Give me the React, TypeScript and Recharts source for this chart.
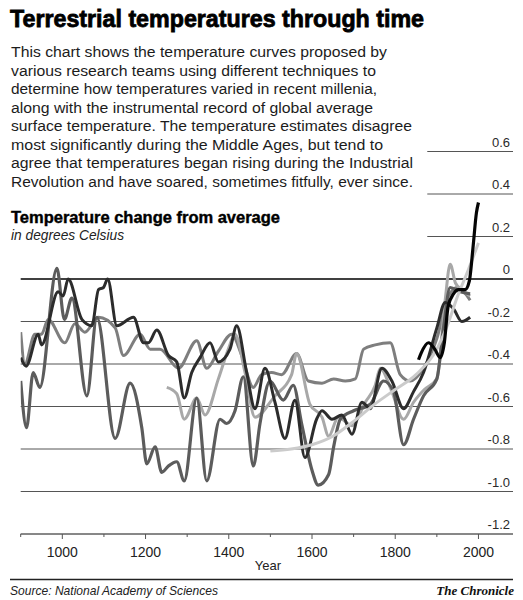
import { LineChart, Line, XAxis, YAxis, ReferenceLine } from "recharts"

// Reconstructions, sampled at the turning points of each curve (°C vs. average)
const mannJonesYears = [900, 913, 942, 950, 990, 1002, 1014, 1047, 1071, 1087, 1099, 1109, 1131, 1171, 1195, 1207, 1227, 1255, 1275, 1293, 1311, 1331, 1355, 1375, 1403, 1419, 1443, 1463, 1487, 1511, 1535, 1559, 1583, 1611, 1624, 1648, 1672, 1696, 1720, 1740, 1768, 1792, 1820, 1844, 1868, 1900, 1920, 1940, 1960, 1980]
const mannJonesTemps = [-0.37, -0.41, -0.26, -0.31, -0.06, -0.08, 0.0, -0.19, -0.22, -0.05, -0.04, 0.0, -0.22, -0.18, -0.3, -0.3, -0.24, -0.36, -0.39, -0.56, -0.44, -0.37, -0.3, -0.39, -0.33, -0.22, -0.44, -0.61, -0.42, -0.58, -0.75, -0.57, -0.84, -0.66, -0.62, -0.66, -0.64, -0.73, -0.58, -0.61, -0.42, -0.48, -0.61, -0.53, -0.44, -0.23, -0.11, -0.14, -0.2, -0.18]

const mobergYears = [900, 914, 930, 946, 987, 1005, 1023, 1059, 1083, 1127, 1163, 1191, 1203, 1223, 1239, 1255, 1275, 1293, 1323, 1347, 1379, 1395, 1415, 1435, 1459, 1475, 1499, 1531, 1555, 1575, 1600, 1615, 1640, 1652, 1668, 1700, 1740, 1772, 1796, 1820, 1844, 1868, 1900, 1916, 1932, 1956, 1980]
const mobergTemps = [-0.48, -0.7, -0.44, -0.51, 0.05, -0.19, -0.09, -0.55, -0.18, -0.75, -0.49, -0.7, -0.87, -0.79, -0.91, -0.88, -0.86, -0.95, -0.56, -0.95, -0.66, -0.68, -0.62, -0.46, -0.88, -0.68, -0.48, -0.57, -0.5, -0.68, -0.9, -0.97, -0.92, -0.79, -0.66, -0.62, -0.59, -0.48, -0.53, -0.78, -0.66, -0.55, -0.47, -0.23, -0.04, -0.06, -0.07]

const hegerlYears = [900, 910, 934, 950, 966, 1006, 1030, 1054, 1087, 1127, 1147, 1187, 1211, 1235, 1279, 1323, 1347, 1375, 1407, 1431, 1459, 1479, 1503, 1527, 1563, 1591, 1624, 1652, 1680, 1704, 1724, 1752, 1788, 1812, 1836, 1868, 1900, 1928, 1950, 1980]
const hegerlTemps = [-0.25, -0.4, -0.26, -0.26, -0.19, -0.3, -0.21, -0.25, -0.18, -0.23, -0.36, -0.26, -0.33, -0.33, -0.42, -0.29, -0.42, -0.34, -0.26, -0.36, -0.51, -0.45, -0.44, -0.45, -0.35, -0.48, -0.49, -0.47, -0.48, -0.47, -0.33, -0.31, -0.3, -0.45, -0.48, -0.42, -0.28, -0.08, -0.04, -0.1]

const esperYears = [1251, 1275, 1293, 1323, 1343, 1375, 1399, 1415, 1439, 1463, 1511, 1551, 1563, 1595, 1624, 1640, 1663, 1696, 1728, 1752, 1764, 1790, 1820, 1844, 1870, 1900, 1920, 1932, 1945, 1960, 1980]
const esperTemps = [-0.51, -0.54, -0.66, -0.56, -0.64, -0.47, -0.33, -0.26, -0.44, -0.65, -0.55, -0.45, -0.35, -0.59, -0.65, -0.74, -0.65, -0.69, -0.58, -0.5, -0.42, -0.52, -0.66, -0.58, -0.52, -0.47, -0.1, 0.07, -0.02, -0.05, -0.08]

const boreholeYears = [1500, 1550, 1600, 1650, 1700, 1750, 1800, 1850, 1900, 1925, 1950, 1975, 2000]
const boreholeTemps = [-0.81, -0.8, -0.78, -0.74, -0.67, -0.59, -0.52, -0.45, -0.33, -0.22, -0.08, 0.04, 0.17]

const instrumentalYears = [1856, 1862, 1880, 1895, 1908, 1918, 1927, 1940, 1952, 1968, 1978, 1987, 1995, 2000]
const instrumentalTemps = [-0.38, -0.35, -0.3, -0.33, -0.37, -0.3, -0.13, -0.07, -0.05, -0.05, -0.01, 0.15, 0.31, 0.36]

const gridValues = [0.6, 0.4, 0.2, 0, -0.2, -0.4, -0.6, -0.8, -1.0, -1.2]
const gridLabels = ["0.6", "0.4", "0.2", "0", "-0.2", "-0.4", "-0.6", "-0.8", "-1.0", "-1.2"]
const yearTicks = [900, 1000, 1100, 1200, 1300, 1400, 1500, 1600, 1700, 1800, 1900, 2000]

const introLines = [
  "This chart shows the temperature curves proposed by",
  "various research teams using different techniques to",
  "determine how temperatures varied in recent millenia,",
  "along with the instrumental record of global average",
  "surface temperature. The temperature estimates disagree",
  "most significantly during the Middle Ages, but tend to",
  "agree that temperatures began rising during the Industrial",
  "Revolution and have soared, sometimes fitfully, ever since.",
]
const introWidths = [376, 365, 366, 362, 401, 372, 402, 402]

const toPoints = (years: number[], temps: number[]) => years.map((year, i) => ({ year, temp: temps[i] }))

const series = [
  { key: "hegerl", points: toPoints(hegerlYears, hegerlTemps), color: "#7e7e7e", width: 3 },
  { key: "esper", points: toPoints(esperYears, esperTemps), color: "#a8a8a8", width: 3 },
  { key: "moberg", points: toPoints(mobergYears, mobergTemps), color: "#5c5c5c", width: 3.2 },
  { key: "mannJones", points: toPoints(mannJonesYears, mannJonesTemps), color: "#2c2c2c", width: 3 },
  { key: "borehole", points: toPoints(boreholeYears, boreholeTemps), color: "#cbcbcb", width: 3 },
  { key: "instrumental", points: toPoints(instrumentalYears, instrumentalTemps), color: "#050505", width: 3.2 },
]

const SANS = "'Liberation Sans', Arial, sans-serif"

function GridLabel(props: any) {
  const { viewBox, text } = props
  if (!viewBox) return null
  return (
    <text x={viewBox.x + viewBox.width - 3} y={viewBox.y - 5} textAnchor="end" fontFamily={SANS} fontSize={13} fill="#2a2a2a">
      {text}
    </text>
  )
}

function YearTick(props: any) {
  const { x, y, payload } = props
  const major = payload.value % 200 === 0
  return (
    <g>
      <line x1={x} x2={x} y1={y} y2={y + (major ? 5 : 3)} stroke="#555" strokeWidth={1} />
      {major && (
        <text x={x} y={y + 23} textAnchor="middle" fontFamily={SANS} fontSize={14} fill="#222">
          {payload.value}
        </text>
      )}
    </g>
  )
}

export default function App() {
  return (
    <div style={{ position: "relative", width: 523, height: 600, background: "#fff" }}>
      <style>{"body{margin:0}"}</style>
      <LineChart width={523} height={600} margin={{ top: 151.5, right: 10, bottom: 26, left: 20.7 }}>
        <XAxis
          dataKey="year"
          type="number"
          domain={[900, 2083]}
          ticks={yearTicks}
          allowDataOverflow
          height={40}
          tickSize={0}
          tickMargin={0}
          tickLine={false}
          axisLine={{ stroke: "#666", strokeWidth: 1 }}
          tick={<YearTick />}
        />
        <YAxis type="number" domain={[-1.2, 0.6]} hide allowDataOverflow />
        {gridValues.map((v, i) =>
          v > 0 ? (
            <ReferenceLine
              key={v}
              segment={[{ x: 1877, y: v }, { x: 2083, y: v }]}
              stroke="#555"
              strokeWidth={1}
              label={<GridLabel text={gridLabels[i]} />}
            />
          ) : (
            <ReferenceLine
              key={v}
              y={v}
              stroke={v === 0 ? "#000" : "#555"}
              strokeWidth={v === 0 ? 1.6 : 1}
              label={<GridLabel text={gridLabels[i]} />}
            />
          )
        )}
        {series.map((s) => (
          <Line
            key={s.key}
            data={s.points}
            dataKey="temp"
            type="monotone"
            stroke={s.color}
            strokeWidth={s.width}
            strokeLinejoin="round"
            dot={false}
            activeDot={false}
            isAnimationActive={false}
          />
        ))}
      </LineChart>

      <svg width={523} height={600} style={{ position: "absolute", left: 0, top: 0, pointerEvents: "none" }}>
        <text x={10} y={26.5} fontFamily={SANS} fontWeight={700} fontSize={24} fill="#000" stroke="#000" strokeWidth={0.8} textLength={414} lengthAdjust="spacingAndGlyphs">
          Terrestrial temperatures through time
        </text>
        {introLines.map((line, i) => (
          <text key={i} x={11} y={57.3 + i * 18.5} fontFamily={SANS} fontSize={15.5} fill="#1c1c1c" textLength={introWidths[i]} lengthAdjust="spacingAndGlyphs">
            {line}
          </text>
        ))}
        <text x={11} y={222.7} fontFamily={SANS} fontWeight={700} fontSize={16} fill="#000" stroke="#000" strokeWidth={0.4} textLength={269} lengthAdjust="spacingAndGlyphs">
          Temperature change from average
        </text>
        <text x={11} y={240} fontFamily={SANS} fontStyle="italic" fontSize={14} fill="#222" textLength={113} lengthAdjust="spacingAndGlyphs">
          in degrees Celsius
        </text>
        <text x={268} y={570} textAnchor="middle" fontFamily={SANS} fontSize={13} fill="#222">
          Year
        </text>
        <line x1={10} x2={513} y1={579.5} y2={579.5} stroke="#222" strokeWidth={1.5} />
        <text x={10} y={595} fontFamily={SANS} fontStyle="italic" fontSize={13} fill="#222" textLength={208} lengthAdjust="spacingAndGlyphs">
          Source: National Academy of Sciences
        </text>
        <text x={514} y={595} textAnchor="end" fontFamily="'Liberation Serif', 'Times New Roman', serif" fontStyle="italic" fontWeight={700} fontSize={13} fill="#111">
          The Chronicle
        </text>
      </svg>
    </div>
  )
}
